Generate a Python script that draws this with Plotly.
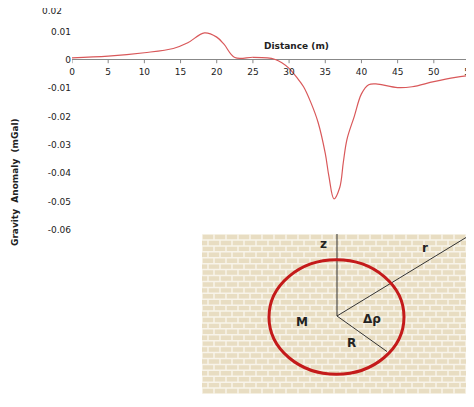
import plotly.graph_objects as go

# gravity profile
distance = [0, 5, 10, 14, 16, 18.3, 20, 21, 22.5, 25, 27, 28, 29, 30, 31, 32, 33, 34, 35,
            35.5, 36.2, 37, 37.5, 38, 39, 40, 41, 42, 45, 47, 50, 53, 55]
anomaly = [0.0007, 0.0013, 0.0025, 0.004, 0.006, 0.0095, 0.008, 0.0055, 0.0008, 0.0009,
           0.0007, 0.0002, -0.001, -0.003, -0.006, -0.0095, -0.015, -0.022, -0.033,
           -0.041, -0.049, -0.045, -0.036, -0.028, -0.02, -0.012, -0.0088, -0.0085,
           -0.0098, -0.0095, -0.0077, -0.0062, -0.0055]
x_ticks = [0, 5, 10, 15, 20, 25, 30, 35, 40, 45, 50, 55]
y_ticks = [0.01, 0, -0.01, -0.02, -0.03, -0.04, -0.05, -0.06]
y_labels = ["0.01", "0", "-0.01", "-0.02", "-0.03", "-0.04", "-0.05", "-0.06"]

FONT = "DejaVu Sans"
fig = go.Figure()

fig.add_trace(go.Scatter(x=distance, y=anomaly, mode="lines", line=dict(color="#d9585a", width=1.2),
                         line_shape="spline", xaxis="x", yaxis="y", showlegend=False))

# x axis drawn along y = 0
tx, ty = [], []
for t in x_ticks:
    tx += [t, t, None]
    ty += [0, -0.0012, None]
fig.add_trace(go.Scatter(x=tx, y=ty, mode="lines", line=dict(color="#888", width=1),
                         xaxis="x", yaxis="y", showlegend=False))
fig.add_trace(go.Scatter(x=x_ticks, y=[-0.0045] * len(x_ticks), mode="text",
                         text=[str(t) for t in x_ticks], textfont=dict(family=FONT, size=9, color="#222"),
                         xaxis="x", yaxis="y", showlegend=False, cliponaxis=False))

# right-hand axis ticks
rx, ry = [], []
for i in range(41):
    v = 0.02 - i * 0.002
    ln = 0.35 if i % 5 == 0 else 0.2
    rx += [55 - ln, 55 + ln, None]
    ry += [v, v, None]
fig.add_trace(go.Scatter(x=rx, y=ry, mode="lines", line=dict(color="#999", width=1),
                         xaxis="x", yaxis="y", showlegend=False, cliponaxis=False, hoverinfo="skip"))

# brick background for the sphere sketch
bx, by = [], []
for i, yy in enumerate(range(237, 400, 6)):
    bx += [202, 470, None]
    by += [yy, yy, None]
    off = 0 if i % 2 == 0 else 6
    for xx in range(202 + off, 470, 12):
        bx += [xx, xx, None]
        by += [yy, min(yy + 6, 399), None]
fig.add_trace(go.Scatter(x=bx, y=by, mode="lines", line=dict(color="#f8f4ea", width=1.5),
                         xaxis="x2", yaxis="y2", showlegend=False, hoverinfo="skip"))

# page body has an 8px margin, so the figure is sized to fit inside the window
fig.update_layout(
    width=466, height=391, margin=dict(l=64, r=4, t=0, b=0),
    paper_bgcolor="white", plot_bgcolor="white",
    xaxis=dict(range=[0, 55], domain=[0, 1], anchor="y", showticklabels=False, showgrid=False,
               zeroline=False, showline=False),
    yaxis=dict(range=[-0.06, 0.01826], domain=[0.4246, 1], anchor="x", tickvals=y_ticks, ticktext=y_labels,
               showgrid=False, zeroline=True, zerolinecolor="#888", zerolinewidth=1, showline=False,
               tickfont=dict(family=FONT, size=9, color="#222"), ticks=""),
    xaxis2=dict(range=[202, 470], domain=[0.3266, 1], anchor="y2", visible=False),
    yaxis2=dict(range=[399, 237], domain=[0, 0.4143], anchor="x2", visible=False),
)

fig.add_shape(type="line", xref="paper", yref="paper", x0=1, x1=1, y0=0.4143, y1=1,
              line=dict(color="#999", width=1))
fig.add_shape(type="rect", xref="x2", yref="y2", x0=202, x1=470, y0=237, y1=399,
              fillcolor="#e8ddc2", line_width=0, layer="below")
line = dict(color="#333", width=1)
fig.add_shape(type="line", xref="x2", yref="y2", x0=337, y0=230, x1=337, y1=320, line=line)
fig.add_shape(type="line", xref="x2", yref="y2", x0=337, y0=320, x1=470, y1=238, line=line)
fig.add_shape(type="line", xref="x2", yref="y2", x0=337, y0=320, x1=387, y1=356, line=line)
fig.add_shape(type="circle", xref="x2", yref="y2", x0=269, x1=404, y0=263, y1=379,
              line=dict(color="#c41a1a", width=3))

for txt, x, y in [("M", 302, 326), ("R", 352, 347), ("Δρ", 372, 323), ("z", 324, 247), ("r", 425, 251)]:
    fig.add_annotation(x=x, y=y, xref="x2", yref="y2", text=f"<b>{txt}</b>", showarrow=False,
                       font=dict(family=FONT, size=12, color="#222"))

fig.add_annotation(x=0, y=1, xref="paper", yref="paper", xanchor="right", yanchor="top", xshift=-8,
                   yshift=4, text="0.02", showarrow=False, font=dict(family=FONT, size=9, color="#222"))
fig.add_annotation(x=31, y=0.005, xref="x", yref="y", text="<b>Distance (m)</b>", showarrow=False,
                   font=dict(family=FONT, size=9, color="#222"))
fig.add_annotation(x=-0.161, y=0.72, xref="paper", yref="paper", xanchor="left",
                   text="<b>Gravity  Anomaly  (mGal)</b>", showarrow=False, textangle=-90,
                   font=dict(family=FONT, size=9, color="#222"))

fig.write_html("out.html")
